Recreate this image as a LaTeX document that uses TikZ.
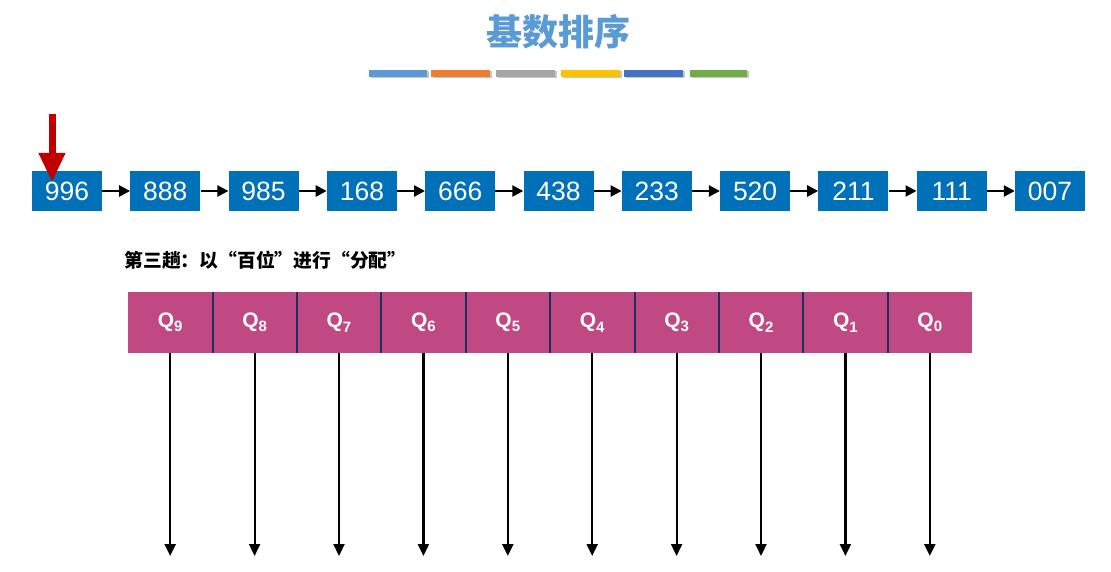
\documentclass[tikz,border=0pt]{standalone}
\usepackage{fontspec}
\setmainfont{Liberation Sans}
\newfontfamily\cjk{Noto Sans CJK SC}
\usetikzlibrary{arrows.meta}
\definecolor{titleblue}{HTML}{5B9BD5}
\definecolor{listblue}{HTML}{0070B8}
\definecolor{qpink}{HTML}{C04883}
\definecolor{navy}{HTML}{1F2F5F}
\definecolor{arrowred}{HTML}{C00000}
\definecolor{barA}{HTML}{5B9BD5}
\definecolor{barB}{HTML}{ED7D31}
\definecolor{barC}{HTML}{A5A5A5}
\definecolor{barD}{HTML}{FFC000}
\definecolor{barE}{HTML}{4472C4}
\definecolor{barF}{HTML}{70AD47}
\begin{document}
\begin{tikzpicture}[x=1pt,y=-1pt,
  numbox/.style={fill=listblue,text=white,minimum width=70pt,minimum height=40pt,inner sep=0pt,font=\fontsize{26.5}{26.5}\selectfont},
  link/.style={-{Triangle[length=11pt,width=11pt]},line width=2.4pt},
  qcell/.style={fill=qpink,text=white,minimum width=84.4pt,minimum height=61pt,inner sep=0pt,font=\bfseries\fontsize{21}{21}\selectfont},
  drop/.style={-{Triangle[length=12pt,width=11pt]},line width=2.2pt},
  divider/.style={navy,line width=2pt}]
\useasboundingbox (0,0) rectangle (1111,572);
% title and colour bars
\node[font=\cjk\bfseries\fontsize{36}{36}\selectfont,text=titleblue] (title) at (558,32) {基数排序};
\foreach \c/\a/\b in {barA/369/427,barB/431/490,barC/496/555,barD/561/620,barE/624/683,barF/690/747}{
  \fill[black!22] (\a+1.5,71.5) rectangle (\b+1.5,78.5);
  \fill[\c] (\a,70) rectangle (\b,77);
}
% the list
\foreach \v [count=\i from 0] in {996,888,985,168,666,438,233,520,211,111,007}
  \node[numbox] (n\i) at (67+98.3*\i,191) {\v};
\foreach \i in {0,...,9}{
  \pgfmathtruncatemacro{\j}{\i+1}
  \draw[link] (n\i) -- (n\j);
}
\coordinate (ptop) at (52,114);
\coordinate (ptip) at (52,182);
\draw[-{Triangle[length=29pt,width=25pt]},line width=7pt,arrowred] (ptop) -- (ptip);
% third pass
\node[anchor=west,font=\cjk\bfseries\fontsize{18.8}{18.8}\selectfont] (pass) at (121,260) {第三趟：以“百位”进行“分配”};
\foreach \k [count=\i from 0] in {9,8,...,0}
  \node[qcell] (q\k) at (128+84.4*\i+42.2,322.5) {Q\raisebox{-0.4ex}{\fontsize{15}{15}\selectfont\k}};
\foreach \k in {9,8,...,1}
  \draw[divider] (q\k.north east) -- (q\k.south east);
\coordinate (qend) at (0,556);
\foreach \k in {9,8,...,0}
  \draw[drop] (q\k.south) -- (q\k.south |- qend);
\end{tikzpicture}
\end{document}
